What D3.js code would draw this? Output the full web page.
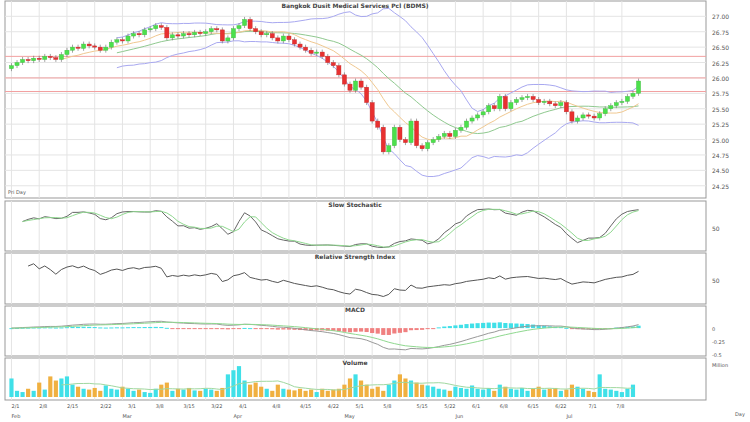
<!DOCTYPE html><html><head><meta charset="utf-8"><script src="https://cdn.jsdelivr.net/npm/d3@7"></script>
<style>body{margin:0;background:#fff;font-family:"DejaVu Sans",sans-serif}</style></head><body><svg id="c" width="750" height="422"></svg>
<script>
const closes=[26.20,26.25,26.30,26.28,26.32,26.30,26.35,26.33,26.30,26.38,26.45,26.50,26.48,26.55,26.52,26.50,26.45,26.50,26.58,26.62,26.60,26.68,26.72,26.70,26.78,26.80,26.85,26.82,
26.65,26.70,26.68,26.72,26.70,26.74,26.72,26.75,26.80,26.78,26.60,26.65,26.80,26.85,26.95,
26.80,26.75,26.70,26.72,26.65,26.60,26.68,26.62,26.55,26.50,26.45,26.40,26.42,26.35,26.25,26.20,26.05,25.90,25.80,
25.95,25.85,25.60,25.30,25.20,24.80,24.90,25.20,25.00,24.95,25.30,24.90,24.85,24.95,25.00,25.05,25.10,25.05,25.15,25.20,25.30,25.35,25.40,25.45,25.55,25.50,25.70,25.50,25.60,25.65,25.68,25.70,25.65,25.60,25.62,25.58,25.55,25.60,25.45,25.30,25.35,25.40,25.38,25.35,25.42,25.50,25.55,25.60,25.62,25.70,25.75,25.95];
const volumes=[45,15,12,20,15,35,18,50,40,45,50,30,25,20,18,22,15,28,20,18,25,20,15,18,12,10,20,30,
35,15,20,18,22,16,15,20,18,15,22,55,65,75,40,30,35,25,20,15,30,20,18,16,20,15,18,12,20,15,18,20,30,45,55,
40,30,20,25,15,30,40,55,45,40,35,30,28,25,20,18,15,25,22,20,28,20,18,22,15,30,25,20,18,22,15,20,25,18,20,22,15,18,30,25,20,15,12,55,20,18,15,12,20,30];
const priceTicks=["27.00","26.75","26.50","26.25","26.00","25.75","25.50","25.25","25.00","24.75","24.50","24.25"];
const dateLabels=["2/1","2/8","2/15","2/22","3/1","3/8","3/15","3/22","4/1","4/8","4/15","4/22","5/1","5/8","5/15","5/22","6/1","6/8","6/15","6/22","7/1","7/8"];
const monthLabels=["Feb","Mar","Apr","May","Jun","Jul"];
const svg=d3.select("#c");
const n=closes.length;
const x=d3.scaleBand().domain(d3.range(n)).range([8,642]).padding(0.25);
const cx=i=>x(i)+x.bandwidth()/2;
const L=5,R=706;
const panels=[[1,198],[201,251],[253,304],[306,356],[358,400]];
svg.append("rect").attr("width",750).attr("height",422).attr("fill","#fff");
panels.forEach(p=>svg.append("rect").attr("x",L).attr("y",p[0]).attr("width",R-L).attr("height",p[1]-p[0]).attr("fill","#fff").attr("stroke","#999"));
const gx=d3.range(0,n,5);
panels.forEach(p=>gx.forEach(i=>svg.append("line").attr("x1",cx(i)).attr("x2",cx(i)).attr("y1",p[0]).attr("y2",p[1]).attr("stroke","#e4e4e4")));
const y=d3.scaleLinear().domain([24.1,27.2]).range([195,4]);
priceTicks.forEach(t=>{svg.append("line").attr("x1",L).attr("x2",R).attr("y1",y(+t)).attr("y2",y(+t)).attr("stroke","#e4e4e4");
svg.append("text").attr("x",712).attr("y",y(+t)+3).attr("font-size",6).attr("fill","#555").text(t);});
[26.35,26.0,25.78].forEach(v=>svg.append("line").attr("x1",L).attr("x2",R).attr("y1",y(v)).attr("y2",y(v)).attr("stroke","#f2a0a0"));
function sma(a,k){return a.map((_,i)=>i<k-1?null:d3.mean(a.slice(i-k+1,i+1)));}
function ema(a,k){const m=2/(k+1);let e=a[0];return a.map(v=>e=v*m+e*(1-m));}
const m20=sma(closes,20),m50=sma(closes,10),sd=closes.map((_,i)=>i<19?null:d3.deviation(closes.slice(i-19,i+1)));
const line=(acc,ys)=>d3.line().defined(d=>d!=null).x((d,i)=>cx(i)).y(d=>ys(d));
const addL=(data,ys,col,w)=>svg.append("path").attr("d",line(null,ys)(data)).attr("fill","none").attr("stroke",col).attr("stroke-width",w||1);
addL(m20.map((m,i)=>m==null?null:m+2*sd[i]),y,"#a8a8f0");
addL(m20.map((m,i)=>m==null?null:m-2*sd[i]),y,"#a8a8f0");
addL(m20,y,"#8fc98f");addL(m50,y,"#f0c890");
const opens=closes.map((c,i)=>i?closes[i-1]:c-0.05);
closes.forEach((c,i)=>{const o=opens[i],up=c>=o,col=up?"#4ce04c":"#e83030";
const hi=Math.max(o,c)+0.04,lo=Math.min(o,c)-0.04;
svg.append("line").attr("x1",cx(i)).attr("x2",cx(i)).attr("y1",y(hi)).attr("y2",y(lo)).attr("stroke","#666").attr("stroke-width",0.6);
svg.append("rect").attr("x",x(i)).attr("width",x.bandwidth()).attr("y",y(Math.max(o,c))).attr("height",Math.max(1,y(Math.min(o,c))-y(Math.max(o,c)))).attr("fill",col).attr("stroke",d3.color(col).darker(0.5)).attr("stroke-width",0.4);});
const title=(t,yy)=>svg.append("text").attr("x",355).attr("y",yy).attr("text-anchor","middle").attr("font-size",6).attr("font-weight","bold").attr("fill","#444").text(t);
title("Bangkok Dusit Medical Services Pcl (BDMS)",8);
svg.append("text").attr("x",8).attr("y",194).attr("font-size",5).attr("fill","#555").text("Pri Day");
const k=closes.map((c,i)=>{const s=closes.slice(Math.max(0,i-13),i+1);const lo=d3.min(s)-0.05,hi=d3.max(s)+0.05;return 100*(c-lo)/(hi-lo);});
const ks=sma(k,3),kd=sma(ks,3);
const ys=d3.scaleLinear().domain([0,100]).range([249,206]);
addL(ks,ys,"#666");addL(kd,ys,"#8fd88f");title("Slow Stochastic",207);
svg.append("text").attr("x",712).attr("y",ys(50)+3).attr("font-size",6).attr("fill","#555").text("50");
const rsi=[];let ag=0,al=0;closes.forEach((c,i)=>{if(!i){rsi.push(null);return;}const d=c-closes[i-1];ag=(ag*13+Math.max(d,0))/14;al=(al*13+Math.max(-d,0))/14;rsi.push(i<3?null:100-100/(1+ag/(al||1e-6)));});
const yr=d3.scaleLinear().domain([0,100]).range([302,258]);
addL(rsi,yr,"#555");title("Relative Strength Index",259);
svg.append("text").attr("x",712).attr("y",yr(50)+3).attr("font-size",6).attr("fill","#555").text("50");
const e12=ema(closes,12),e26=ema(closes,26),macd=e12.map((v,i)=>v-e26[i]),sig=ema(macd,9),hist=macd.map((v,i)=>v-sig[i]);
const ym=d3.scaleLinear().domain([-0.5,0.35]).range([354,310]);
hist.forEach((h,i)=>svg.append("rect").attr("x",x(i)).attr("width",x.bandwidth()).attr("y",Math.min(ym(h),ym(0))).attr("height",Math.max(1,Math.abs(ym(h)-ym(0)))).attr("fill",h>=0?"#40e0e8":"#f08080"));
addL(macd,ym,"#999");addL(sig,ym,"#8fd88f");title("MACD",312);
["-0.5","-0.25","0"].forEach(t=>svg.append("text").attr("x",712).attr("y",ym(+t)+3).attr("font-size",5).attr("fill","#555").text(t));
const yv=d3.scaleLinear().domain([0,85]).range([397,362]);
volumes.forEach((v,i)=>svg.append("rect").attr("x",x(i)).attr("width",x.bandwidth()).attr("y",yv(v)).attr("height",yv(0)-yv(v)).attr("fill",closes[i]>=opens[i]?"#40e0e8":"#f0b040"));
addL(sma(volumes,10),yv,"#a0d8a0");title("Volume",365);
svg.append("text").attr("x",712).attr("y",367).attr("font-size",5).attr("fill","#555").text("Million");
dateLabels.forEach((t,j)=>{const i=Math.round(j*n/dateLabels.length);svg.append("text").attr("x",cx(i)).attr("y",408).attr("font-size",5).attr("fill","#555").text(t);});
monthLabels.forEach((t,j)=>{const i=Math.round(j*n/monthLabels.length*1.05);svg.append("text").attr("x",cx(Math.min(i,n-1))).attr("y",418).attr("font-size",5).attr("fill","#555").text(t);});
svg.append("text").attr("x",735).attr("y",416).attr("font-size",5).attr("fill","#555").text("Day");
</script></body></html>
